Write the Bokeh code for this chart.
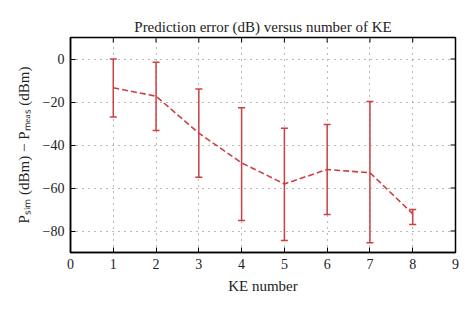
from bokeh.plotting import figure
from bokeh.models import ColumnDataSource, Whisker, TeeHead, FixedTicker, Range1d
from bokeh.embed import file_html
from bokeh.resources import INLINE

ke = [1, 2, 3, 4, 5, 6, 7, 8]
mean_err = [-13.4, -17.3, -34.5, -48.3, -58.1, -51.4, -52.9, -72.0]
upper = [0.0, -1.5, -13.9, -22.7, -32.2, -30.5, -19.8, -70.0]
lower = [-27.0, -33.3, -55.0, -75.1, -84.4, -72.3, -85.5, -77.0]
x_ticks = [0, 1, 2, 3, 4, 5, 6, 7, 8, 9]
y_ticks = [-80, -60, -40, -20, 0]
y_label = "P\u209b\u1d62\u2098 (dBm) \u2212 P\u2098\u2091\u2090\u209b (dBm)"

W, H = 474, 313
L, R, T, B = 70, 19, 37, 61
FONT = "Liberation Serif"
RED = "#cc3f42"
X0, X1, Y0, Y1 = 0, 9, -90, 10

p = figure(width=W, height=H, output_backend="svg", toolbar_location=None,
           x_range=Range1d(X0, X1), y_range=Range1d(Y0, Y1),
           min_border_left=L, min_border_right=R, min_border_top=T, min_border_bottom=B,
           x_axis_label="KE number", y_axis_label=y_label)
p.title.text = "Prediction error (dB) versus number of KE"
p.title.text_font = FONT
p.title.text_font_size = "15px"
p.title.text_font_style = "normal"
p.title.align = "center"
p.title.text_color = "#222222"
p.title.offset = 0
p.title.standoff = 6

p.outline_line_color = "black"
p.outline_line_width = 1.5
p.outline_line_alpha = 1

for ax in [p.xaxis[0], p.yaxis[0]]:
    ax.axis_line_color = "black"
    ax.axis_line_width = 1.5
    ax.major_tick_in = 5
    ax.major_tick_out = 0
    ax.minor_tick_line_color = None
    ax.major_label_text_font = FONT
    ax.major_label_text_font_size = "14px"
    ax.major_label_text_color = "#222222"
    ax.major_tick_line_color = "black"
    ax.axis_label_text_font = FONT
    ax.axis_label_text_font_size = "15px"
    ax.axis_label_text_font_style = "normal"
    ax.axis_label_text_color = "#222222"
p.xaxis[0].ticker = FixedTicker(ticks=x_ticks)
p.yaxis[0].ticker = FixedTicker(ticks=y_ticks)
p.xaxis[0].axis_label_standoff = 6
p.xaxis[0].major_label_standoff = 6
p.yaxis[0].major_label_standoff = 6
p.yaxis[0].axis_label_standoff = 8

# inward ticks on the right and top edges
tick_len_x = 5 * (X1 - X0) / (W - L - R)
tick_len_y = 5 * (Y1 - Y0) / (H - T - B)
p.segment(x0=[X1] * len(y_ticks), x1=[X1 - tick_len_x] * len(y_ticks), y0=y_ticks, y1=y_ticks,
          line_color="black", line_width=1)
p.segment(x0=x_ticks, x1=x_ticks, y0=[Y1] * len(x_ticks), y1=[Y1 - tick_len_y] * len(x_ticks),
          line_color="black", line_width=1)

p.xgrid.ticker = FixedTicker(ticks=x_ticks)
p.ygrid.ticker = FixedTicker(ticks=y_ticks)
for g in [p.xgrid[0], p.ygrid[0]]:
    g.grid_line_color = "#555555"
    g.grid_line_dash = "1 5"
    g.grid_line_width = 1
    g.grid_line_alpha = 0.8

src = ColumnDataSource(dict(x=ke, y=mean_err, upper=upper, lower=lower))
p.line("x", "y", source=src, line_color=RED, line_width=1.6, line_dash="6 3")
wh = Whisker(base="x", upper="upper", lower="lower", source=src,
             line_color=RED, line_width=1.5,
             upper_head=TeeHead(size=7, line_color=RED, line_width=1.5),
             lower_head=TeeHead(size=7, line_color=RED, line_width=1.5))
p.add_layout(wh)

open("out.html", "w").write(file_html(p, INLINE))
